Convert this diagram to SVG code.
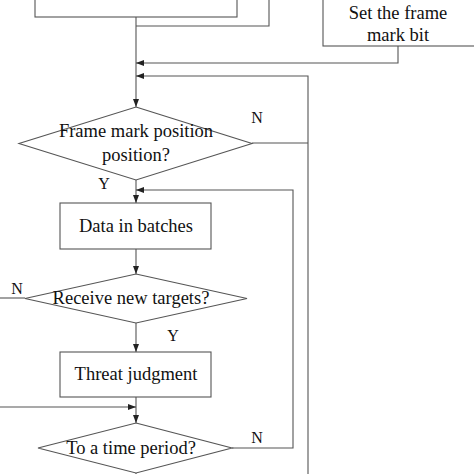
<svg xmlns="http://www.w3.org/2000/svg" width="474" height="474" viewBox="0 0 474 474">
<style>
.box{fill:#fff;stroke:#555;stroke-width:1.1}
.ln{fill:none;stroke:#555;stroke-width:1.1}
.t{font-family:"Liberation Serif","Times New Roman",serif;font-size:18.5px;fill:#111;text-anchor:middle}
.lb{font-family:"Liberation Serif","Times New Roman",serif;font-size:16px;fill:#111;text-anchor:middle}
</style>
<defs>
<marker id="ah" markerUnits="userSpaceOnUse" markerWidth="8" markerHeight="6" refX="8" refY="3" orient="auto">
<path d="M0,0 L8,3 L0,6 z" fill="#222"/>
</marker>
</defs>
<rect width="474" height="474" fill="#fff"/>
<g id="connectors">
<line class="ln" x1="136" y1="17" x2="136" y2="107" marker-end="url(#ah)"/>
<polyline class="ln" points="269,0 269,26 136,26"/>
<polyline class="ln" points="398,46 398,63 136,63" marker-end="url(#ah)"/>
<polyline class="ln" points="252,143 308,143"/>
<polyline class="ln" points="308,474 308,76 136,76" marker-end="url(#ah)"/>
<line class="ln" x1="136" y1="180" x2="136" y2="203" marker-end="url(#ah)"/>
<polyline class="ln" points="232,448 293,448 293,190 136,190" marker-end="url(#ah)"/>
<line class="ln" x1="136" y1="249" x2="136" y2="274" marker-end="url(#ah)"/>
<line class="ln" x1="25" y1="298" x2="0" y2="298"/>
<line class="ln" x1="136" y1="323" x2="136" y2="352" marker-end="url(#ah)"/>
<line class="ln" x1="136" y1="397" x2="136" y2="423" marker-end="url(#ah)"/>
<line class="ln" x1="0" y1="407" x2="136" y2="407" marker-end="url(#ah)"/>
<line class="ln" x1="136" y1="473" x2="136" y2="480"/>
<text class="lb" x="257" y="123">N</text>
<text class="lb" x="104" y="189">Y</text>
<text class="lb" x="17" y="294">N</text>
<text class="lb" x="173" y="341">Y</text>
<text class="lb" x="257" y="443">N</text>
</g>
<g id="n-top">
<rect class="box" x="35" y="-20" width="202" height="37"/>
</g>
<g id="n-setbit">
<rect class="box" x="323" y="-2" width="160" height="48"/>
<text class="t" x="398" y="19">Set the frame</text>
<text class="t" x="398" y="41">mark bit</text>
</g>
<g id="n-framemark">
<polygon class="box" points="136,107 252,143.5 136,180 19,143.5"/>
<text class="t" x="136" y="137">Frame mark position</text>
<text class="t" x="136" y="161">position?</text>
</g>
<g id="n-batches">
<rect class="box" x="60" y="203" width="151" height="46"/>
<text class="t" x="136" y="232">Data in batches</text>
</g>
<g id="n-receive">
<polygon class="box" points="136,274 247,298.5 136,323 25,298.5"/>
<text class="t" x="131" y="304">Receive new targets?</text>
</g>
<g id="n-threat">
<rect class="box" x="60" y="352" width="151" height="45"/>
<text class="t" x="136" y="380">Threat judgment</text>
</g>
<g id="n-period">
<polygon class="box" points="136,423 232,448 136,473 38,448"/>
<text class="t" x="131" y="454">To a time period?</text>
</g>
</svg>
